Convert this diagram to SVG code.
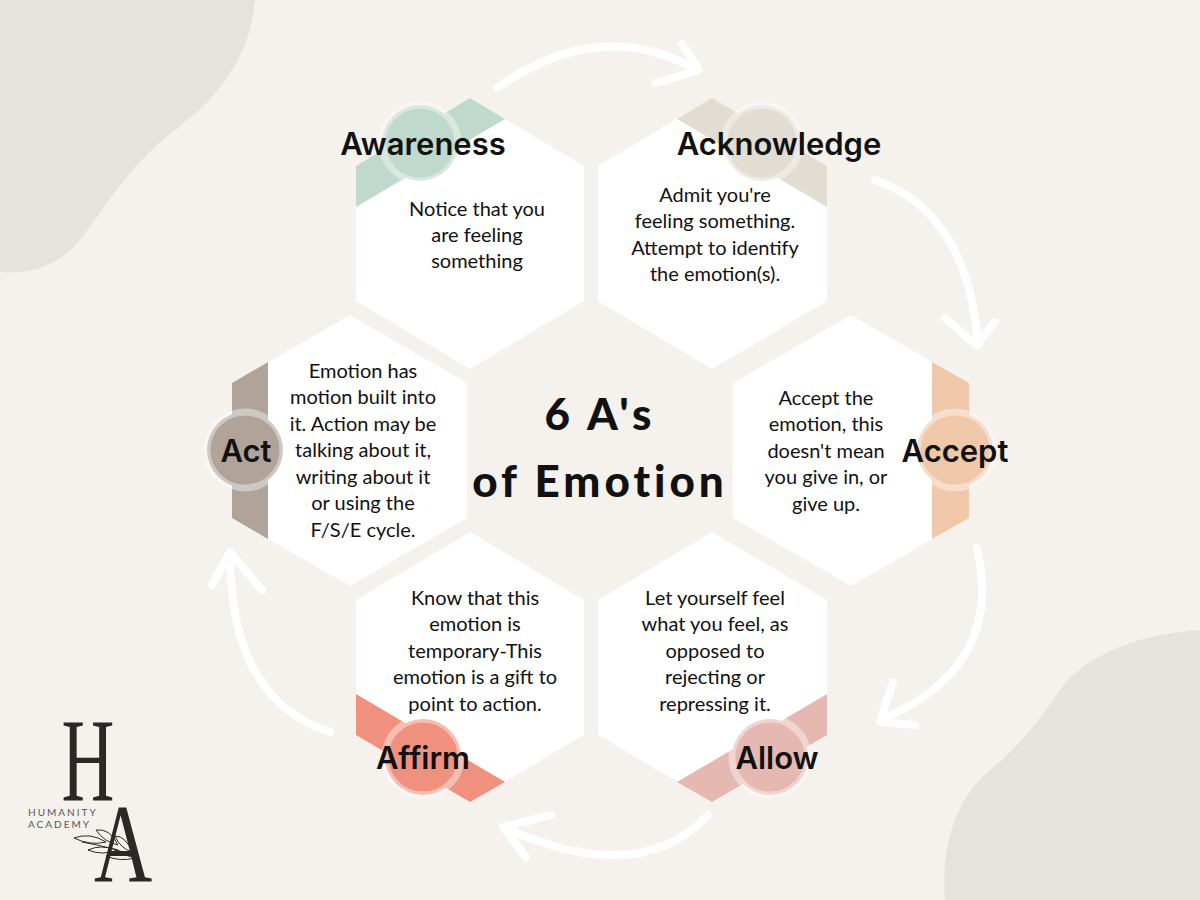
<svg xmlns="http://www.w3.org/2000/svg" width="1200" height="900" viewBox="0 0 1200 900">
<style>
.hex{fill:#ffffff}
.ring{stroke:#ffffff;stroke-opacity:0.4;stroke-width:7}
.head{font-family:Inter,Lato,"Liberation Sans",sans-serif;font-weight:600;font-size:31px;fill:#111;text-anchor:middle}
.body{font-family:Lato,"Liberation Sans",sans-serif;font-weight:400;font-size:20px;fill:#111;text-anchor:middle}
.arr{fill:none;stroke:#ffffff;stroke-width:8;stroke-linecap:round;stroke-linejoin:round}
</style>
<rect width="1200" height="900" fill="#f5f1ed"/>
<path d="M0,0 H255 C250,60 215,100 175,130 C130,165 110,200 80,240 C60,265 30,275 0,272 Z" fill="#e6e2de"/>
<path d="M1200,630 C1130,635 1080,660 1060,690 C1040,720 1020,745 990,770 C960,795 940,840 945,900 H1200 Z" fill="#e6e2de"/>

<g id="center">
<polygon points="600,315 717,383 717,518 600,586 483,518 483,383" fill="#f5f1ed"/>
<text font-family="Lato,'Liberation Sans',sans-serif" font-weight="900" font-size="44" text-anchor="middle" fill="#111" letter-spacing="4"><tspan x="600" y="430">6 A's</tspan><tspan x="600" y="497">of Emotion</tspan></text>
</g>

<g id="awareness">
<polygon class="hex" points="470,98 584,166 584,301 470,369 356,301 356,166"/>
<polygon points="356,166 470,98 505,119 356,207" fill="#bfd9cc"/>
<circle cx="420" cy="143" r="38" fill="#bfd9cc" class="ring"/>
<text class="head" x="423" y="155">Awareness</text>
<text class="body"><tspan x="477" y="216">Notice that you</tspan><tspan x="477" y="242">are feeling</tspan><tspan x="477" y="268">something</tspan></text>
</g>

<g id="acknowledge">
<polygon class="hex" points="712,98 827,166 827,301 712,369 598,301 598,166"/>
<polygon points="712,98 827,166 827,207 677,119" fill="#e2ddd2"/>
<circle cx="762" cy="143" r="38" fill="#e2ddd2" class="ring"/>
<text class="head" x="779" y="155">Acknowledge</text>
<text class="body"><tspan x="715" y="202">Admit you're</tspan><tspan x="715" y="228">feeling something.</tspan><tspan x="715" y="255">Attempt to identify</tspan><tspan x="715" y="281">the emotion(s).</tspan></text>
</g>

<g id="act">
<polygon class="hex" points="350,315 467,383 467,518 350,586 232,518 232,383"/>
<polygon points="232,383 268,362 268,539 232,518" fill="#afa39a"/>
<circle cx="245" cy="450" r="38" fill="#afa39a" class="ring"/>
<text class="head" x="246" y="462">Act</text>
<text class="body"><tspan x="363" y="378">Emotion has</tspan><tspan x="363" y="404">motion built into</tspan><tspan x="363" y="431">it. Action may be</tspan><tspan x="363" y="457">talking about it,</tspan><tspan x="363" y="484">writing about it</tspan><tspan x="363" y="510">or using the</tspan><tspan x="363" y="537">F/S/E cycle.</tspan></text>
</g>

<g id="accept">
<polygon class="hex" points="851,315 969,383 969,518 851,586 733,518 733,383"/>
<polygon points="932,362 969,383 969,518 932,539" fill="#efc8a9"/>
<circle cx="955" cy="450" r="38" fill="#efc8a9" class="ring"/>
<text class="head" x="955" y="462">Accept</text>
<text class="body"><tspan x="826" y="405">Accept the</tspan><tspan x="826" y="431">emotion, this</tspan><tspan x="826" y="458">doesn't mean</tspan><tspan x="826" y="484">you give in, or</tspan><tspan x="826" y="511">give up.</tspan></text>
</g>

<g id="affirm">
<polygon class="hex" points="470,532 584,600 584,735 470,802 356,735 356,600"/>
<polygon points="356,694 505,782 470,802 356,735" fill="#f0917f"/>
<circle cx="423" cy="757" r="38" fill="#f0917f" class="ring"/>
<text class="head" x="423" y="769">Affirm</text>
<text class="body"><tspan x="475" y="605">Know that this</tspan><tspan x="475" y="631">emotion is</tspan><tspan x="475" y="658">temporary-This</tspan><tspan x="475" y="684">emotion is a gift to</tspan><tspan x="475" y="711">point to action.</tspan></text>
</g>

<g id="allow">
<polygon class="hex" points="712,532 827,600 827,735 712,802 598,735 598,600"/>
<polygon points="827,694 677,782 712,802 827,735" fill="#e5b9b2"/>
<circle cx="770" cy="757" r="38" fill="#e5b9b2" class="ring"/>
<text class="head" x="777" y="769">Allow</text>
<text class="body"><tspan x="715" y="605">Let yourself feel</tspan><tspan x="715" y="631">what you feel, as</tspan><tspan x="715" y="658">opposed to</tspan><tspan x="715" y="684">rejecting or</tspan><tspan x="715" y="711">repressing it.</tspan></text>
</g>

<g id="connectors">
<path class="arr" d="M497,88 Q600,15 697,70"/>
<path class="arr" d="M682,44 L699,70 L656,83"/>
<path class="arr" d="M875,180 Q968,212 978,345"/>
<path class="arr" d="M945,318 L976,345 L995,322"/>
<path class="arr" d="M977,548 Q1005,665 885,718"/>
<path class="arr" d="M893,682 L880,722 L915,725"/>
<path class="arr" d="M708,815 Q640,888 505,828"/>
<path class="arr" d="M551,815 L503,827 L526,857"/>
<path class="arr" d="M330,732 Q230,700 230,553"/>
<path class="arr" d="M212,585 L230,552 L262,590"/>
</g>

<g id="logo" fill="#2b2826">
<text x="88" y="800" font-family="'Liberation Serif',serif" font-size="118" text-anchor="middle" transform="translate(88,0) scale(0.62,1) translate(-88,0)">H</text>
<text x="123" y="882" font-family="'Liberation Serif',serif" font-size="112" text-anchor="middle" transform="translate(123,0) scale(0.72,1) translate(-123,0)">A</text>
<text x="28" y="816" font-family="Lato,'Liberation Sans',sans-serif" font-size="10" letter-spacing="2" fill="#555">HUMANITY</text>
<text x="28" y="828" font-family="Lato,'Liberation Sans',sans-serif" font-size="10" letter-spacing="2" fill="#555">ACADEMY</text>
<g fill="none" stroke="#2b2826" stroke-width="1">
<path d="M82,842 Q115,848 137,857"/>
<path d="M74,838 Q90,832 106,842 Q90,846 74,838 Z"/>
<path d="M96,830 Q110,828 118,845 Q104,842 96,830 Z"/>
<path d="M88,850 Q100,844 118,850 Q102,856 88,850 Z"/>
<path d="M115,836 Q126,836 132,852 Q120,848 115,836 Z"/>
<path d="M106,856 Q120,852 135,858 Q120,862 106,856 Z"/>
</g>
</g>
</svg>
